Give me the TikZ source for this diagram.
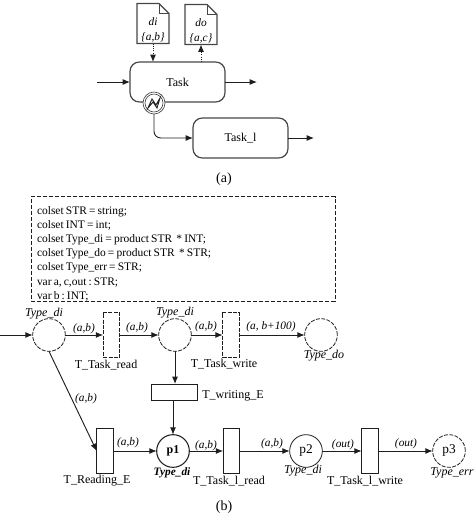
\documentclass[tikz,border=0pt]{standalone}
\usepackage{fontspec}
\setmainfont{Liberation Serif}
\usetikzlibrary{arrows.meta}
\definecolor{ink}{RGB}{30,30,30}
\definecolor{edge}{RGB}{70,70,70}
\newcommand{\docpage}[1]{%
\draw[edge,line width=.8pt] (#1.south west) |- ([xshift=-7.5pt]#1.north east) -- ([yshift=-7.5pt]#1.north east) -- (#1.south east) -- cycle;
\draw[edge,line width=.5pt] ([xshift=-7.5pt]#1.north east) |- ([yshift=-7.5pt]#1.north east);}
\tikzset{
flow/.style={ink,line width=.7pt,-{Latex[length=5.5pt,width=4.5pt]}},
taskbox/.style={draw=edge,line width=.9pt,rounded corners=7pt,minimum width=71.25pt,minimum height=30pt,inner sep=0pt,outer sep=0pt},
docbox/.style={minimum width=24pt,minimum height=30pt,inner sep=0pt,outer sep=0pt,align=center,font=\fontsize{8.5}{11.25}\selectfont\itshape},
ring/.style={circle,draw=edge,fill=white,line width=.5pt,inner sep=0pt,outer sep=0pt},
place/.style={circle,draw=ink,line width=.6pt,minimum size=24.5pt,inner sep=0pt,outer sep=0pt},
hplace/.style={place,dashed,dash pattern=on 3pt off 1pt},
trans/.style={rectangle,draw=ink,line width=.6pt,minimum width=12.5pt,minimum height=33.75pt,inner sep=0pt,outer sep=0pt},
htrans/.style={trans,dash pattern=on 3pt off 1pt},
lab/.style={font=\fontsize{9}{11}\selectfont,inner sep=0pt},
arc/.style={font=\fontsize{8.5}{11}\selectfont\itshape,inner sep=0pt},
typ/.style={font=\fontsize{9}{11}\selectfont\itshape,inner sep=0pt},
}
\begin{document}
\begin{tikzpicture}[x=.75pt,y=-.75pt]
\useasboundingbox (0,0) rectangle (474,514);
% part a
\node[taskbox,font=\fontsize{9}{11}\selectfont] (task) at (177.5,82) {Task};
\node[taskbox,font=\fontsize{9}{11}\selectfont] (taskl) at (240.5,138) {Task\_l};
\node[docbox] (di) at (153,23.5) {\rule{0pt}{15pt}di\\\{a,b\}};
\node[docbox] (do) at (201,24.5) {\rule{0pt}{15pt}do\\\{a,c\}};
\docpage{di} \docpage{do}
\coordinate (in) at (97,82); \coordinate (out) at (257,82); \coordinate (outl) at (314,138);
\draw[flow,densely dotted] (di.south) -- (di.south |- task.north);
\draw[flow,densely dotted] (do.south |- task.north) -- (do.south);
\draw[flow] (in) -- (task); \draw[flow] (task) -- (out); \draw[flow] (taskl) -- (outl);
\node[ring,minimum size=16.5pt] (err) at (154,103) {};
\node[ring,minimum size=13.5pt] (erri) at (154,103) {};
\draw[flow,rounded corners=5pt] (err) |- (taskl);
\draw[ink,line width=.7pt] ([shift={(-6,5)}]erri.center) -- ([shift={(-2,-4)}]erri.center) -- ([shift={(2,2)}]erri.center) -- ([shift={(6,-5)}]erri.center) -- ([shift={(3,5)}]erri.center) -- ([shift={(-1,-1)}]erri.center) -- cycle;
\node[font=\fontsize{10.5}{12}\selectfont,inner sep=0pt] (capa) at (224,179) {(a)};
% part b
\node[draw=ink,line width=.6pt,dash pattern=on 3pt off 1.5pt,minimum width=228pt,minimum height=78pt,text width=219pt,inner sep=0pt,outer sep=0pt,align=left,font=\fontsize{8.6}{10.65}\selectfont] (decl) at (183,249) {\spaceskip=1.6pt\relax\xspaceskip=1.6pt\relax\rule{0pt}{13pt}colset STR = string;\\
colset INT = int;\\
colset Type\_di = product STR~ * INT;\\
colset Type\_do = product STR~ * STR;\\
colset Type\_err = STR;\\
var a, c,out : STR;\\
var b : INT;};
\node[hplace] (pa) at (49,335) {};
\node[hplace] (pb) at (175,335) {};
\node[hplace] (pc) at (321,335) {};
\node[htrans] (tread) at (111.5,335) {};
\node[htrans] (twrite) at (231,335) {};
\node[trans,minimum width=34.5pt,minimum height=12pt] (twriting) at (174,392) {};
\node[trans] (treading) at (105,451) {};
\node[trans] (tlread) at (231.5,451) {};
\node[trans] (tlwrite) at (370,451) {};
\node[place,line width=.8pt,font=\fontsize{9}{11}\selectfont\bfseries] (p1) at (173,451) {p1};
\node[place,font=\fontsize{10}{11}\selectfont] (p2) at (306,451) {p2};
\node[hplace,font=\fontsize{10}{11}\selectfont] (p3) at (449,451) {p3};
\coordinate (start) at (0,335);
\draw[flow] (start) -- (pa); \draw[flow] (pa) -- (tread); \draw[flow] (tread) -- (pb);
\draw[flow] (pb) -- (twrite); \draw[flow] (twrite) -- (pc);
\draw[flow] (pb) -- (pb |- twriting.north); \draw[flow] (p1 |- twriting.south) -- (p1);
\draw[flow] (pa.south) -- (treading.west);
\draw[flow] (treading) -- (p1); \draw[flow] (p1) -- (tlread); \draw[flow] (tlread) -- (p2);
\draw[flow] (p2) -- (tlwrite); \draw[flow] (tlwrite) -- (p3);
\node[arc] (a1) at (84,329) {(a,b)}; \node[arc] (a2) at (137,328) {(a,b)};
\node[arc] (a3) at (206,327) {(a,b)}; \node[arc] (a4) at (271,327) {(a, b+100)};
\node[arc] (a5) at (86,399) {(a,b)}; \node[arc] (a6) at (128,443) {(a,b)};
\node[arc] (a7) at (206,446) {(a,b)}; \node[arc] (a8) at (272,444) {(a,b)};
\node[arc] (a9) at (343,445) {(out)}; \node[arc] (a10) at (406,444) {(out)};
\node[typ] (ta) at (44,314) {Type\_di}; \node[typ] (tb) at (175,313) {Type\_di};
\node[typ] (tc) at (324,356) {Type\_do}; \node[typ,font=\fontsize{8.5}{11}\selectfont\bfseries\itshape] (td) at (172,473) {Type\_di};
\node[typ] (te) at (303,471) {Type\_di}; \node[typ] (tf) at (452,473) {Type\_err};
\node[lab] (n1) at (106,365) {T\_Task\_read}; \node[lab] (n2) at (224,364) {T\_Task\_write};
\node[lab,anchor=west] (n3) at (202,396) {T\_writing\_E}; \node[lab] (n4) at (97,481) {T\_Reading\_E};
\node[lab] (n5) at (229,481) {T\_Task\_l\_read}; \node[lab] (n6) at (365,481) {T\_Task\_l\_write};
\node[font=\fontsize{10.5}{12}\selectfont,inner sep=0pt] (capb) at (224,507) {(b)};
\end{tikzpicture}
\end{document}
